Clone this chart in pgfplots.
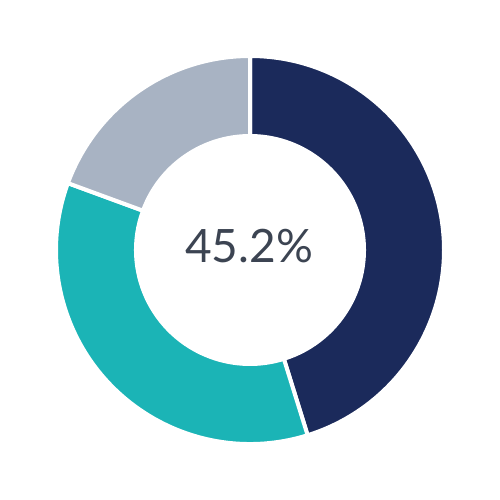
\documentclass[border=0pt]{standalone}
\usepackage{fontspec}
\setmainfont{Lato}
\usepackage{pgfplots}
\usepackage{pgfplotstable}
\pgfplotsset{compat=1.18}

\definecolor{donutnavy}{HTML}{1B2A5B}
\definecolor{donutteal}{HTML}{1BB4B6}
\definecolor{donutgrey}{HTML}{A8B3C3}
\definecolor{labelgrey}{HTML}{3C4452}

% shares in percent, clockwise from 12 o'clock
\pgfplotstableread{
share color
45.2 donutnavy
35.4 donutteal
19.4 donutgrey
}\donutdata

\begin{document}
\begin{tikzpicture}
\begin{axis}[
    x=0.75pt, y=0.75pt,
    xmin=0, xmax=500,
    ymin=0, ymax=500,
    hide axis,
    clip=false,
]
\fill[white] (axis cs:0,0) rectangle (axis cs:500,500);

\def\Rout{145.5pt}
\def\Rin{85.5pt}
\pgfplotstablegetrowsof{\donutdata}
\pgfmathtruncatemacro\lastrow{\pgfplotsretval-1}
\def\startangle{90}
\pgfplotsforeachungrouped \i in {0,...,\lastrow}{
    \pgfplotstablegetelem{\i}{share}\of\donutdata
    \let\share\pgfplotsretval
    \pgfplotstablegetelem{\i}{color}\of\donutdata
    \let\segcolor\pgfplotsretval
    \pgfmathsetmacro\endangle{\startangle-3.6*\share}
    \edef\temp{\noexpand\fill[\segcolor, draw=white, line width=3pt, line join=miter]
        ([shift={(\startangle:\Rout)}]axis cs:250,250)
        arc[start angle=\startangle, end angle=\endangle, radius=\Rout]
        -- ([shift={(\endangle:\Rin)}]axis cs:250,250)
        arc[start angle=\endangle, end angle=\startangle, radius=\Rin]
        -- cycle;}
    \temp
    \global\let\startangle\endangle
}

\node[text=labelgrey, anchor=base, inner sep=0pt,
      font=\fontsize{34.5}{40}\selectfont] at (axis cs:249,237) {45.2\%};
\end{axis}
\end{tikzpicture}
\end{document}
